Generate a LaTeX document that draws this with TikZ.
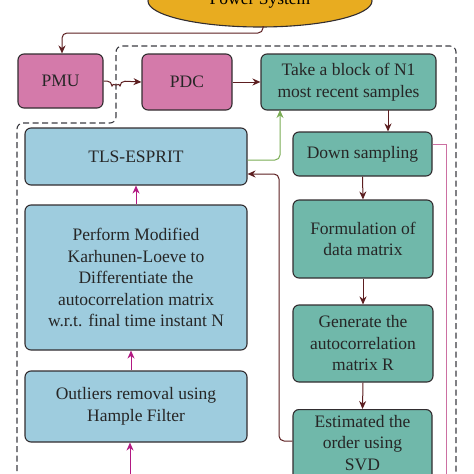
\documentclass[tikz,border=0pt]{standalone}
\usepackage{fontspec}
\setmainfont{Liberation Serif}
\usetikzlibrary{arrows.meta,shapes.geometric}
\definecolor{pinkbox}{RGB}{212,122,170}
\definecolor{tealbox}{RGB}{112,184,170}
\definecolor{bluebox}{RGB}{158,204,222}
\definecolor{goldfill}{RGB}{232,172,32}
\definecolor{edge}{RGB}{50,45,48}
\definecolor{brownline}{RGB}{92,30,32}
\definecolor{greenline}{RGB}{122,172,84}
\definecolor{magline}{RGB}{178,24,130}
\definecolor{pinkline}{RGB}{204,112,162}
\definecolor{dashcol}{RGB}{60,60,66}
\tikzset{
  box/.style={draw=edge,line width=1.1pt,rounded corners=6pt,align=center,inner sep=0pt,font=\fontsize{17.5}{21.5}\selectfont,text=black!85},
  pinkb/.style={box,fill=pinkbox},
  tealb/.style={box,fill=tealbox},
  blueb/.style={box,fill=bluebox},
  brarrow/.style={draw=brownline,line width=1pt,-{Stealth[length=8pt,width=7pt]},rounded corners=5pt},
  grarrow/.style={draw=greenline,line width=1pt,-{Stealth[length=8pt,width=7pt]},rounded corners=5pt},
  magarrow/.style={draw=magline,line width=1pt,-{Stealth[length=8pt,width=7pt]}},
  boundary/.style={draw=dashcol,line width=1.1pt,dash pattern=on 6pt off 3.5pt,rounded corners=6pt}
}
\begin{document}
\begin{tikzpicture}[x=1pt,y=-1pt]
\useasboundingbox (0,0) rectangle (474,474);
\clip (0,0) rectangle (474,474);
% boundary
\draw[boundary] (17,490) -- (17,123) -- (116,123) -- (116,46) -- (456,46) -- (456,490);
% ellipse
\node[ellipse,draw=edge,line width=1.1pt,fill=goldfill,minimum width=224pt,minimum height=52pt,inner sep=0pt,font=\fontsize{17.5}{21.5}\selectfont] (ps) at (260,1) {\raisebox{4pt}{Power System}};
% top row
\node[pinkb,minimum width=85pt,minimum height=54pt] (pmu) at (60.5,81) {PMU};
\node[pinkb,minimum width=90pt,minimum height=56pt] (pdc) at (187,82) {PDC};
\node[tealb,minimum width=175pt,minimum height=56pt] (blk) at (348.5,82) {Take a block of N1\\most recent samples};
% right column
\node[tealb,minimum width=139pt,minimum height=44pt] (ds) at (362.5,154) {Down sampling};
\node[tealb,minimum width=140pt,minimum height=78pt] (fm) at (363,239) {Formulation of\\data matrix};
\node[tealb,minimum width=140pt,minimum height=77pt] (gen) at (363,343.5) {Generate the\\autocorrelation\\matrix R};
\node[tealb,minimum width=139pt,minimum height=96pt,anchor=north] (svd) at (362.5,409) {\raisebox{0pt}{}Estimated the\\order using\\SVD\\[8pt]\mbox{}};
% left column
\node[blueb,minimum width=222pt,minimum height=57pt] (tls) at (136,156.5) {TLS-ESPRIT};
\node[blueb,minimum width=222pt,minimum height=145pt] (kl) at (136,277.5) {Perform Modified\\Karhunen-Loeve to\\Differentiate the\\autocorrelation matrix\\w.r.t. final time instant N};
\node[blueb,minimum width=222pt,minimum height=71pt] (out) at (136,406.5) {Outliers removal using\\Hample Filter};
\coordinate (bot) at (130,480);
\coordinate (pstap) at (263,26);
% connectors
\draw[brarrow] (pstap) |- (62,33) -- (pmu.north -| 62,0);
\draw[brarrow] (pmu.east) -- (112,81) arc[start angle=180,end angle=0,radius=4] -- (pdc.west);
\draw[brarrow] (pdc.east) -- (blk.west);
\draw[brarrow] (388,110) -- (ds.north -| 388,0);
\draw[brarrow] (ds.south) -- (fm.north);
\draw[brarrow] (fm.south) -- (gen.north);
\draw[brarrow] (gen.south) -- (svd.north);
\draw[grarrow] (tls.east |- 0,160) -| (280,110);
\draw[brarrow] (svd.west |- 0,441) -| (279,174) -- (tls.east |- 0,174);
\draw[draw=pinkline,line width=1pt] (ds.east |- 0,144) -| (446,490);
\draw[magarrow] (kl.north -| 136,0) -- (tls.south -| 136,0);
\draw[magarrow] (out.north -| 131,0) -- (kl.south -| 131,0);
\draw[magarrow] (bot) -- (out.south -| 130,0);
\end{tikzpicture}
\end{document}
